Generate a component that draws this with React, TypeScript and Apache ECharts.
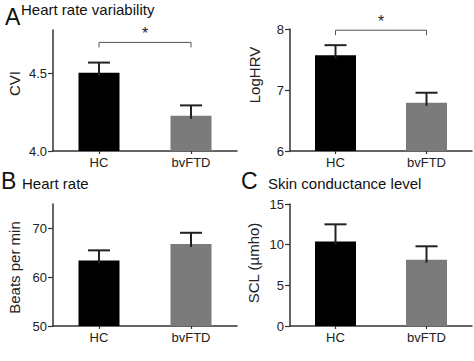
import React, { useEffect, useRef } from "react";
import * as echarts from "echarts";

const categories = ["HC", "bvFTD"];

const cviMean = [4.505, 4.227];
const cviSem = [0.065, 0.067];
const cviTicks = [4.0, 4.5];

const logHrvMean = [7.57, 6.79];
const logHrvSem = [0.165, 0.165];
const logHrvTicks = [6, 7, 8];

const hrMean = [63.4, 66.8];
const hrSem = [2.1, 2.3];
const hrTicks = [50, 60, 70];

const sclMean = [10.4, 8.15];
const sclSem = [2.1, 1.65];
const sclTicks = [0, 5, 10, 15];

const FONT = "'Liberation Sans', Arial, Helvetica, sans-serif";
const BAR_COLORS = ["#000000", "#7b7b7b"];

type Panel = {
  mean: number[];
  sem: number[];
  ticks: number[];
  min: number;
  max: number;
  name: string;
  namePad: number[];
  nameGap: number;
  decimals: number;
  sig: number | null;
  grid: { left: number; top: number; width: number; height: number };
};

const panels: Panel[] = [
  {
    mean: cviMean, sem: cviSem, ticks: cviTicks, min: 4.0, max: 4.78,
    name: "CVI", namePad: [0, 0, 0, 14], nameGap: 31, decimals: 1, sig: 4.70,
    grid: { left: 53, top: 30, width: 184, height: 121 },
  },
  {
    mean: logHrvMean, sem: logHrvSem, ticks: logHrvTicks, min: 6, max: 8,
    name: "LogHRV", namePad: [0, 0, 0, 30], nameGap: 28, decimals: 0, sig: 7.98,
    grid: { left: 290, top: 29, width: 182, height: 122 },
  },
  {
    mean: hrMean, sem: hrSem, ticks: hrTicks, min: 50, max: 75,
    name: "Beats per min", namePad: [0, 5, 0, 0], nameGap: 31, decimals: 0, sig: null,
    grid: { left: 53, top: 204, width: 184, height: 122 },
  },
  {
    mean: sclMean, sem: sclSem, ticks: sclTicks, min: 0, max: 15,
    name: "SCL (µmho)", namePad: [0, 0, 0, 4], nameGap: 29, decimals: 0, sig: null,
    grid: { left: 290, top: 204, width: 182, height: 122 },
  },
];

function buildOption() {
  const grid: any[] = [];
  const xAxis: any[] = [];
  const yAxis: any[] = [];
  const series: any[] = [];

  panels.forEach((p, i) => {
    grid.push({ ...p.grid, containLabel: false });
    xAxis.push({
      type: "category",
      gridIndex: i,
      data: categories,
      axisLine: { show: true, lineStyle: { color: "#333", width: 1.5 } },
      axisTick: { show: true, alignWithLabel: true, length: 3, lineStyle: { color: "#333", width: 1.2 } },
      axisLabel: { color: "#222", fontSize: 13, fontFamily: FONT, margin: 5 },
    });
    yAxis.push({
      type: "value",
      gridIndex: i,
      min: p.min,
      max: p.max,
      name: p.name,
      nameLocation: "middle",
      nameGap: p.nameGap,
      nameTextStyle: { color: "#222", fontSize: 15, fontFamily: FONT, padding: p.namePad },
      splitLine: { show: false },
      axisLine: { show: true, lineStyle: { color: "#333", width: 1.5 } },
      axisTick: { show: true, length: 5, customValues: p.ticks, lineStyle: { color: "#333", width: 1.2 } },
      axisLabel: {
        color: "#222",
        fontSize: 13,
        fontFamily: FONT,
        margin: 6,
        customValues: p.ticks,
        formatter: (v: number) => v.toFixed(p.decimals),
      },
    });
    series.push({
      type: "bar",
      xAxisIndex: i,
      yAxisIndex: i,
      barWidth: 41,
      data: p.mean.map((m, k) => ({ value: m, itemStyle: { color: BAR_COLORS[k] } })),
    });
    series.push({
      type: "custom",
      xAxisIndex: i,
      yAxisIndex: i,
      z: 3,
      encode: { x: 0, y: [1, 2] },
      data: p.mean.map((m, k) => [k, m, m + p.sem[k]]),
      renderItem: (_params: any, api: any) => {
        const idx = api.value(0);
        const p0 = api.coord([idx, api.value(1)]);
        const p1 = api.coord([idx, api.value(2)]);
        return {
          type: "group",
          children: [
            { type: "line", shape: { x1: p0[0], y1: p0[1] + 3, x2: p1[0], y2: p1[1] }, style: { stroke: "#222", lineWidth: 2 } },
            { type: "line", shape: { x1: p1[0] - 11, y1: p1[1], x2: p1[0] + 11, y2: p1[1] }, style: { stroke: "#222", lineWidth: 2 } },
          ],
        };
      },
    });
    if (p.sig !== null) {
      series.push({
        type: "custom",
        xAxisIndex: i,
        yAxisIndex: i,
        z: 3,
        clip: false,
        encode: { x: 0, y: 1 },
        data: [[0, p.sig]],
        renderItem: (_params: any, api: any) => {
          const a = api.coord([0, api.value(1)]);
          const b = api.coord([1, api.value(1)]);
          const mid = (a[0] + b[0]) / 2;
          return {
            type: "group",
            children: [
              {
                type: "polyline",
                shape: { points: [[a[0], a[1] + 5], [a[0], a[1]], [b[0], b[1]], [b[0], b[1] + 5]] },
                style: { stroke: "#555", lineWidth: 1, fill: null },
              },
              {
                type: "text",
                x: mid,
                y: a[1] - 1,
                style: { text: "*", align: "center", verticalAlign: "bottom", font: `16px ${FONT}`, fill: "#222" },
              },
            ],
          };
        },
      });
    }
  });

  const graphic = [
    { type: "text", left: 5, top: 5, style: { text: "A", font: `23px ${FONT}`, fill: "#111" } },
    { type: "text", left: 21, top: 2, style: { text: "Heart rate variability", font: `15px ${FONT}`, fill: "#111" } },
    { type: "text", left: 1, top: 169, style: { text: "B", font: `23px ${FONT}`, fill: "#111" } },
    { type: "text", left: 22, top: 176, style: { text: "Heart rate", font: `15px ${FONT}`, fill: "#111" } },
    { type: "text", left: 241, top: 169, style: { text: "C", font: `23px ${FONT}`, fill: "#111" } },
    { type: "text", left: 268, top: 176, style: { text: "Skin conductance level", font: `15px ${FONT}`, fill: "#111" } },
  ];

  return {
    animation: false,
    backgroundColor: "#ffffff",
    grid,
    xAxis,
    yAxis,
    series,
    graphic,
  };
}

export default function App() {
  const ref = useRef<HTMLDivElement>(null);
  useEffect(() => {
    if (!ref.current) return;
    const chart = echarts.init(ref.current, undefined, { renderer: "svg" });
    chart.setOption(buildOption() as any);
    return () => chart.dispose();
  }, []);
  return (
    <div
      ref={ref}
      style={{ position: "fixed", left: 0, top: 0, width: 474, height: 361, background: "#fff" }}
    />
  );
}
